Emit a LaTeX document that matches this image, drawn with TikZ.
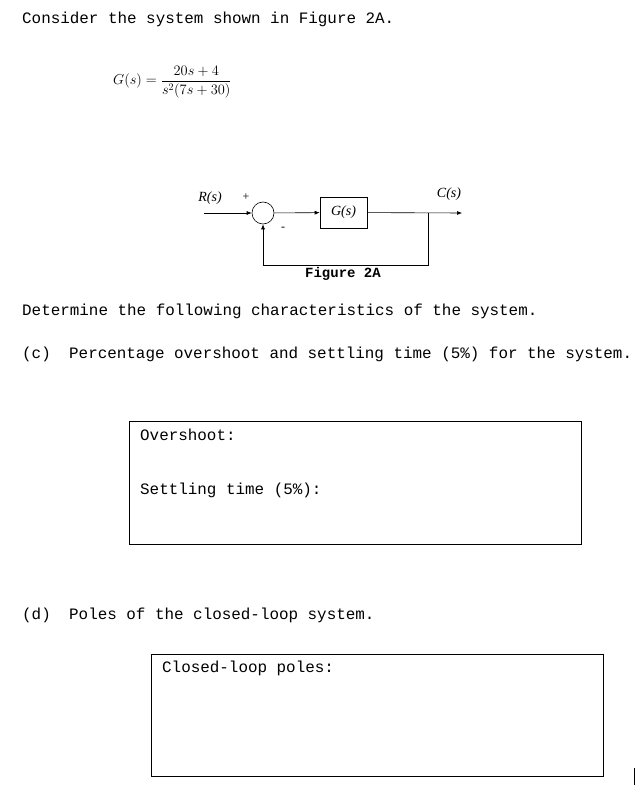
\documentclass[tikz,border=0pt]{standalone}
\usepackage{fontspec}
\setmainfont{Liberation Serif}
\setmonofont{Liberation Mono}
\usetikzlibrary{arrows.meta}
\begin{document}
\begin{tikzpicture}[x=1pt,y=-1pt,
  mono/.style={font=\ttfamily\fontsize{15.9}{18}\selectfont,anchor=base west,inner sep=0},
  lab/.style={font=\fontsize{14}{16}\selectfont\itshape,inner sep=0},
  line/.style={line width=0.6pt},
  arr/.style={line width=0.6pt,-{Latex[length=5pt,width=4pt]}}]
\useasboundingbox (0,0) rectangle (640,802);
\node[mono] (t1) at (22,24) {Consider the system shown in Figure 2A.};
\node[inner sep=0,anchor=west,font=\fontsize{14}{16}\selectfont] (gs) at (113,82) {$\displaystyle G(s)=\frac{20s+4}{s^{2}(7s+30)}$};
% block diagram
\node[circle,draw,line,minimum size=22pt,inner sep=0] (sum) at (263,213) {};
\node[draw,line,minimum width=47pt,minimum height=31pt,inner sep=0,lab] (G) at (343.5,212.5) {G(s)};
\coordinate (in) at (204,213);
\coordinate (out) at (462,213);
\coordinate (br) at (428,213);
\coordinate (fb1) at (428,265);
\coordinate (fb2) at (263,265);
\draw[arr] (in) -- (sum);
\draw[arr] (sum) -- (G);
\draw[arr] (G) -- (out);
\draw[arr] (br) -- (fb1) -- (fb2) -- (sum);
\node[lab] (R) at (210,198) {R(s)};
\node[lab] (C) at (449,194) {C(s)};
\node[inner sep=0,font=\fontsize{12}{14}\selectfont] (plus) at (246,197) {+};
\node[inner sep=0,font=\fontsize{12}{14}\selectfont] (minus) at (283,229) {-};
\node[inner sep=0,font=\ttfamily\bfseries\fontsize{14}{16}\selectfont] (fig) at (343,274) {Figure 2A};
\node[mono] (t2) at (22,315) {Determine the following characteristics of the system.};
\node[mono] (c) at (22,358) {(c)};
\node[mono] (ct) at (69,358) {Percentage overshoot and settling time (5\%) for the system.};
\node[draw,line,minimum width=452pt,minimum height=123pt,inner sep=0] (box1) at (355,482.5) {};
\node[mono] (ov) at (140,440) {Overshoot:};
\node[mono] (st) at (140,494) {Settling time (5\%):};
\node[mono] (d) at (22,619) {(d)};
\node[mono] (dt) at (69,619) {Poles of the closed-loop system.};
\node[draw,line,minimum width=452pt,minimum height=122pt,inner sep=0] (box2) at (377,715) {};
\node[mono] (cl) at (162,672) {Closed-loop poles:};
\draw[line width=1pt] (634,768) -- (634,785);
\end{tikzpicture}
\end{document}
